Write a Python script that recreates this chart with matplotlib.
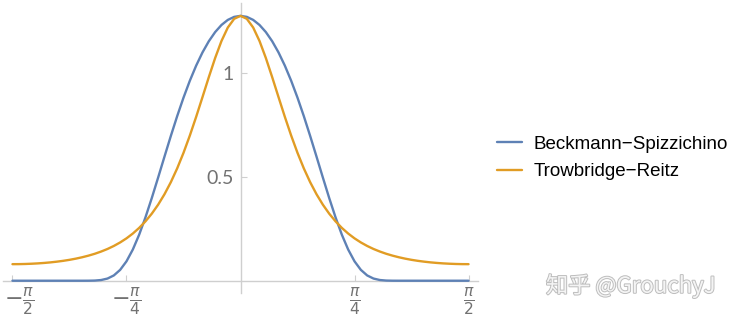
import numpy as np
import matplotlib
matplotlib.use("Agg")
import matplotlib.pyplot as plt
import matplotlib.patheffects as pe
import matplotlib.transforms as mtransforms

# angles (degrees), 0 .. 90 in 2.5 degree steps (curves are symmetric)
theta_deg_half = [0, 2.5, 5, 7.5, 10, 12.5, 15, 17.5, 20, 22.5, 25, 27.5, 30,
                  32.5, 35, 37.5, 40, 42.5, 45, 47.5, 50, 52.5, 55, 57.5, 60,
                  62.5, 65, 67.5, 70, 72.5, 75, 77.5, 80, 82.5, 85, 87.5, 90]

beckmann_half = [1.2732, 1.2683, 1.2538, 1.2295, 1.1953, 1.1513, 1.0975, 1.0340,
                 0.9612, 0.8798, 0.7908, 0.6957, 0.5967, 0.4963, 0.3979, 0.3050,
                 0.2212, 0.1499, 0.0933, 0.0522, 0.0254, 0.0104, 0.0034, 0.0008,
                 0.0001, 0.0, 0.0, 0.0, 0.0, 0.0, 0.0, 0.0, 0.0, 0.0, 0.0, 0.0, 0.0]

trowbridge_half = [1.2732, 1.2589, 1.2172, 1.1525, 1.0708, 0.9788, 0.8828, 0.7879,
                   0.6977, 0.6146, 0.5398, 0.4736, 0.4158, 0.3657, 0.3225, 0.2855,
                   0.2539, 0.2268, 0.2037, 0.1840, 0.1671, 0.1526, 0.1403, 0.1296,
                   0.1206, 0.1128, 0.1061, 0.1004, 0.0956, 0.0916, 0.0882, 0.0855,
                   0.0833, 0.0817, 0.0805, 0.0798, 0.0796]

series_labels = ["Beckmann\u2212Spizzichino", "Trowbridge\u2212Reitz"]
xtick_values = [-np.pi / 2, -np.pi / 4, np.pi / 4, np.pi / 2]
xtick_labels = [r"$-\frac{\pi}{2}$", r"$-\frac{\pi}{4}$", r"$\frac{\pi}{4}$", r"$\frac{\pi}{2}$"]
ytick_values = [0.5, 1.0]
ytick_labels = ["0.5", "1"]

# full symmetric arrays
theta_deg = [-t for t in theta_deg_half[:0:-1]] + theta_deg_half
beckmann = beckmann_half[:0:-1] + beckmann_half
trowbridge = trowbridge_half[:0:-1] + trowbridge_half
theta = np.radians(theta_deg)

blue = "#5E81B5"
orange = "#E19C24"
axis_gray = "#cfcfcf"
label_gray = "#727272"

plt.rcParams["mathtext.fontset"] = "dejavusans"

fig = plt.figure(figsize=(7.35, 3.16), dpi=100)
ax = fig.add_axes([3 / 735, 23 / 316, 475 / 735, 290 / 316])
ax.set_xlim(-1.636, 1.636)
ax.set_ylim(-0.059, 1.335)

l1, = ax.plot(theta, beckmann, color=blue, lw=1.7, solid_capstyle="round", zorder=3)
l2, = ax.plot(theta, trowbridge, color=orange, lw=1.7, solid_capstyle="round", zorder=3)

for s in ["top", "right"]:
    ax.spines[s].set_visible(False)
ax.spines["bottom"].set_position(("data", 0))
ax.spines["left"].set_position(("data", 0))
for s in ["bottom", "left"]:
    ax.spines[s].set_color(axis_gray)
    ax.spines[s].set_linewidth(1.0)
    ax.spines[s].set_zorder(1)

ax.set_xticks(xtick_values)
ax.set_xticklabels(xtick_labels)
ax.set_yticks(ytick_values)
ax.set_yticklabels(ytick_labels)
ax.tick_params(axis="x", direction="in", length=4, width=0.8, color=axis_gray,
               labelsize=16, labelcolor=label_gray, pad=3)
ax.tick_params(axis="y", direction="in", length=4, width=0.8, color=axis_gray,
               labelsize=14, labelcolor=label_gray, pad=5)
for t in ax.get_yticklabels():
    t.set_fontfamily("Lato")

# keep the leftmost label inside the figure (as in the reference)
first = ax.get_xticklabels()[0]
first.set_transform(first.get_transform() +
                    mtransforms.ScaledTranslation(7 / 100, 0, fig.dpi_scale_trans))

fig.legend([l1, l2], series_labels, loc="center left",
           bbox_to_anchor=(480 / 735, 1 - 158 / 316), frameon=False,
           prop={"family": "Liberation Sans", "size": 13.5},
           handlelength=1.35, handletextpad=0.6, labelspacing=0.55)

fig.text(546 / 735, 1 - 286 / 316, "知乎 @GrouchyJ", fontsize=16,
         family=["Noto Sans CJK SC", "DejaVu Sans"], color="#f4f4f4", va="center",
         path_effects=[pe.withStroke(linewidth=1.4, foreground="#bdbdbd")])

fig.savefig("out.png", dpi=100)
